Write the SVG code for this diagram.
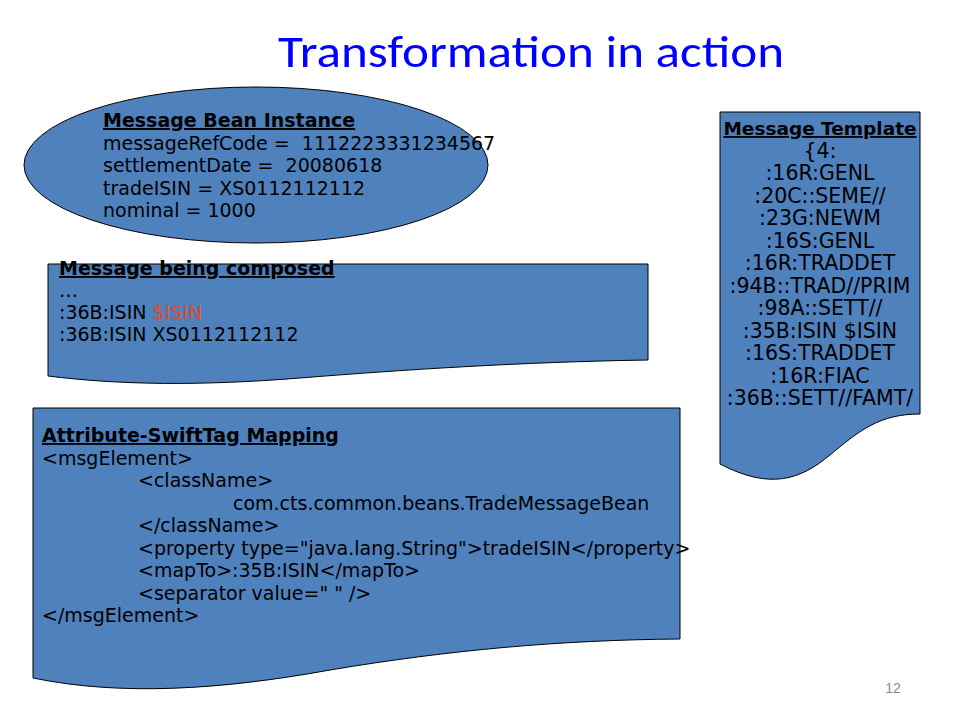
<svg xmlns="http://www.w3.org/2000/svg" width="960" height="720" viewBox="0 0 960 720">
<style>
.shape{fill:#4f81bd;stroke:#000;stroke-width:1}
.t{font-family:"DejaVu Sans",Verdana,sans-serif;font-size:19px;fill:#000}
.h{font-weight:bold;text-decoration:underline}
.c{text-anchor:middle;font-size:20.5px}
.ch{font-size:18.5px}
</style>
<rect width="960" height="720" fill="#fff"/>
<text x="531" y="67" text-anchor="middle" font-family="Carlito,'Liberation Sans',sans-serif" font-size="46" fill="#0000ff" textLength="506" lengthAdjust="spacingAndGlyphs">Transformation in action</text>
<g id="bean">
<ellipse class="shape" cx="256" cy="165" rx="232" ry="78"/>
<text class="t" x="103" y="127" style="white-space:pre"><tspan class="h">Message Bean Instance</tspan><tspan x="103" dy="22.5">messageRefCode =  1112223331234567</tspan><tspan x="103" dy="22.5">settlementDate =  20080618</tspan><tspan x="103" dy="22.5">tradeISIN = XS0112112112</tspan><tspan x="103" dy="22.5">nominal = 1000</tspan></text>
</g>
<g id="composed">
<path class="shape" d="M48,264 H648 V360 C520,362 400,370 300,378 C200,386 120,385 48,376 Z"/>
<text class="t" x="59" y="275"><tspan class="h">Message being composed</tspan><tspan x="59" dy="22">…</tspan><tspan x="59" dy="22">:36B:ISIN <tspan fill="#e04a2a">$ISIN</tspan></tspan><tspan x="59" dy="22">:36B:ISIN XS0112112112</tspan></text>
</g>
<g id="mapping">
<path class="shape" d="M33,408 H680 V639 C560,640 450,650 330,670 C220,690 120,696 33,678 Z"/>
<text class="t" x="42" y="442"><tspan class="h">Attribute-SwiftTag Mapping</tspan><tspan x="42" dy="22.5">&lt;msgElement&gt;</tspan><tspan x="138" dy="22.5">&lt;className&gt;</tspan><tspan x="233" dy="22.5">com.cts.common.beans.TradeMessageBean</tspan><tspan x="138" dy="22.5">&lt;/className&gt;</tspan><tspan x="138" dy="22.5">&lt;property type="java.lang.String"&gt;tradeISIN&lt;/property&gt;</tspan><tspan x="138" dy="22.5">&lt;mapTo&gt;:35B:ISIN&lt;/mapTo&gt;</tspan><tspan x="138" dy="22.5">&lt;separator value=" " /&gt;</tspan><tspan x="42" dy="22.5">&lt;/msgElement&gt;</tspan></text>
</g>
<g id="template">
<path class="shape" d="M720,112 H920 V414 C880,414 860,430 830,455 C800,480 770,490 720,464 Z"/>
<text class="t c" x="820" y="135"><tspan class="h ch">Message Template</tspan><tspan x="820" dy="22.5">{4:</tspan><tspan x="820" dy="22.5">:16R:GENL</tspan><tspan x="820" dy="22.5">:20C::SEME//</tspan><tspan x="820" dy="22.5">:23G:NEWM</tspan><tspan x="820" dy="22.5">:16S:GENL</tspan><tspan x="820" dy="22.5">:16R:TRADDET</tspan><tspan x="820" dy="22.5">:94B::TRAD//PRIM</tspan><tspan x="820" dy="22.5">:98A::SETT//</tspan><tspan x="820" dy="22.5">:35B:ISIN $ISIN</tspan><tspan x="820" dy="22.5">:16S:TRADDET</tspan><tspan x="820" dy="22.5">:16R:FIAC</tspan><tspan x="820" dy="22.5">:36B::SETT//FAMT/</tspan></text>
</g>
<g id="connectors"></g>
<text x="893" y="693" text-anchor="middle" font-family="'Liberation Sans',sans-serif" font-size="14" fill="#8c8c8c">12</text>
</svg>
